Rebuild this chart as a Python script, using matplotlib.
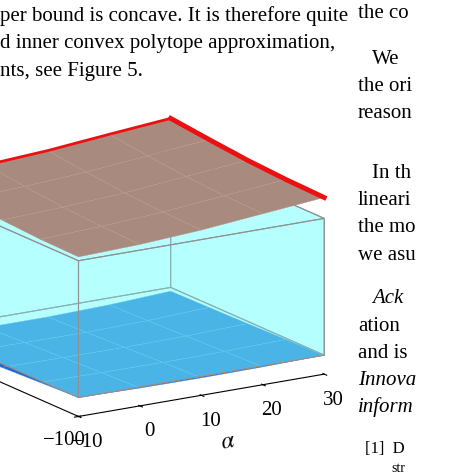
import numpy as np
import matplotlib
matplotlib.use("Agg")
import matplotlib.pyplot as plt
from mpl_toolkits.mplot3d.art3d import Poly3DCollection

alpha_vals = [-10, 0, 10, 20, 30]
beta_vals = [-100, -50, 0, 50, 100]
upper_z = [[4.7, 4.75, 4.85, 5.0, 5.15],
           [4.72, 4.78, 4.88, 5.03, 5.18],
           [4.78, 4.84, 4.94, 5.09, 5.24],
           [4.88, 4.94, 5.04, 5.19, 5.34],
           [5.0, 5.06, 5.16, 5.31, 5.45]]
lower_z = [[1.0, 0.97, 0.96, 0.97, 1.0],
           [0.95, 0.93, 0.92, 0.93, 0.97],
           [0.9, 0.88, 0.87, 0.89, 0.94],
           [0.85, 0.83, 0.82, 0.85, 0.92],
           [0.8, 0.78, 0.78, 0.82, 0.9]]
box_z = [1.0, 4.6]
alpha_ticks = [-10, 0, 10, 20, 30]

plt.rcParams['font.family'] = ['Liberation Serif', 'DejaVu Serif']
plt.rcParams['mathtext.fontset'] = 'stix'
fig = plt.figure(figsize=(4.74, 4.74), dpi=100)
ax = fig.add_axes([-0.35, -0.03, 1.2, 0.95], projection='3d')
ax.set_proj_type('ortho')
ax.computed_zorder = False
A, B = np.meshgrid(alpha_vals, beta_vals)
U = np.array(upper_z); L = np.array(lower_z)
a0, a1 = alpha_vals[0], alpha_vals[-1]
b0, b1 = beta_vals[0], beta_vals[-1]
z0, z1 = box_z
V = [[(a0,b0,z0),(a1,b0,z0),(a1,b1,z0),(a0,b1,z0)],
     [(a0,b0,z1),(a1,b0,z1),(a1,b1,z1),(a0,b1,z1)],
     [(a0,b0,z0),(a1,b0,z0),(a1,b0,z1),(a0,b0,z1)],
     [(a1,b0,z0),(a1,b1,z0),(a1,b1,z1),(a1,b0,z1)],
     [(a0,b1,z0),(a1,b1,z0),(a1,b1,z1),(a0,b1,z1)],
     [(a0,b0,z0),(a0,b1,z0),(a0,b1,z1),(a0,b0,z1)]]
ax.plot_surface(A, B, L, color='#2368d0', edgecolor='#4a8ee0', linewidth=0.3, shade=False, zorder=1)
ax.add_collection3d(Poly3DCollection(V, facecolor=(0.45,1.0,1.0,0.3), edgecolor='#909090', linewidth=0.8, zorder=2))
ax.plot_surface(A, B, U, color='#a88a7e', edgecolor='#b89a90', linewidth=0.3, shade=False, zorder=3)
ax.plot(A[:, -1], B[:, -1], U[:, -1], color='#ee1010', lw=3.5, zorder=4)
ax.plot(A[-1, :], B[-1, :], U[-1, :], color='#ee1010', lw=2, zorder=4)
ax.set_box_aspect((1.0, 1.0, 0.75))
ax.view_init(elev=16, azim=-122)
ax.set_xlim(a0, a1); ax.set_ylim(b0, b1); ax.set_zlim(0.5, 6)
ax.set_xticks(alpha_ticks); ax.set_yticks([-100]); ax.set_zticks([])
ax.set_yticklabels(['−100'])
ax.tick_params(labelsize=15, pad=2)
ax.set_xlabel(r'$\alpha$', fontsize=17, labelpad=8)
for p in (ax.xaxis, ax.yaxis, ax.zaxis):
    p.set_pane_color((1,1,1,0))
ax.zaxis.line.set_color((1,1,1,0))
ax.grid(False)

fs = 15
fig.text(0.0, 0.955, "per bound is concave. It is therefore quite", fontsize=fs)
fig.text(0.0, 0.898, "d inner convex polytope approximation,", fontsize=fs)
fig.text(0.0, 0.84, "nts, see Figure 5.", fontsize=fs)
right = [(0.755,0.962,"the co",''),(0.785,0.865,"We",''),(0.755,0.808,"the ori",''),
         (0.755,0.75,"reason",''),(0.785,0.625,"In th",''),(0.755,0.567,"lineari",''),
         (0.755,0.51,"the mo",''),(0.755,0.452,"we asu",''),(0.785,0.36,"Ack",'italic'),
         (0.755,0.302,"ation",''),(0.755,0.245,"and is",''),(0.755,0.187,"Innova",'italic'),
         (0.755,0.13,"inform",'italic')]
for x,y,t,st in right:
    fig.text(x, y, t, fontsize=fs, style=st if st else 'normal')
fig.text(0.77, 0.045, "[1]  D", fontsize=12)
fig.text(0.825, 0.005, "str", fontsize=10)
fig.savefig("out.png", dpi=100)
